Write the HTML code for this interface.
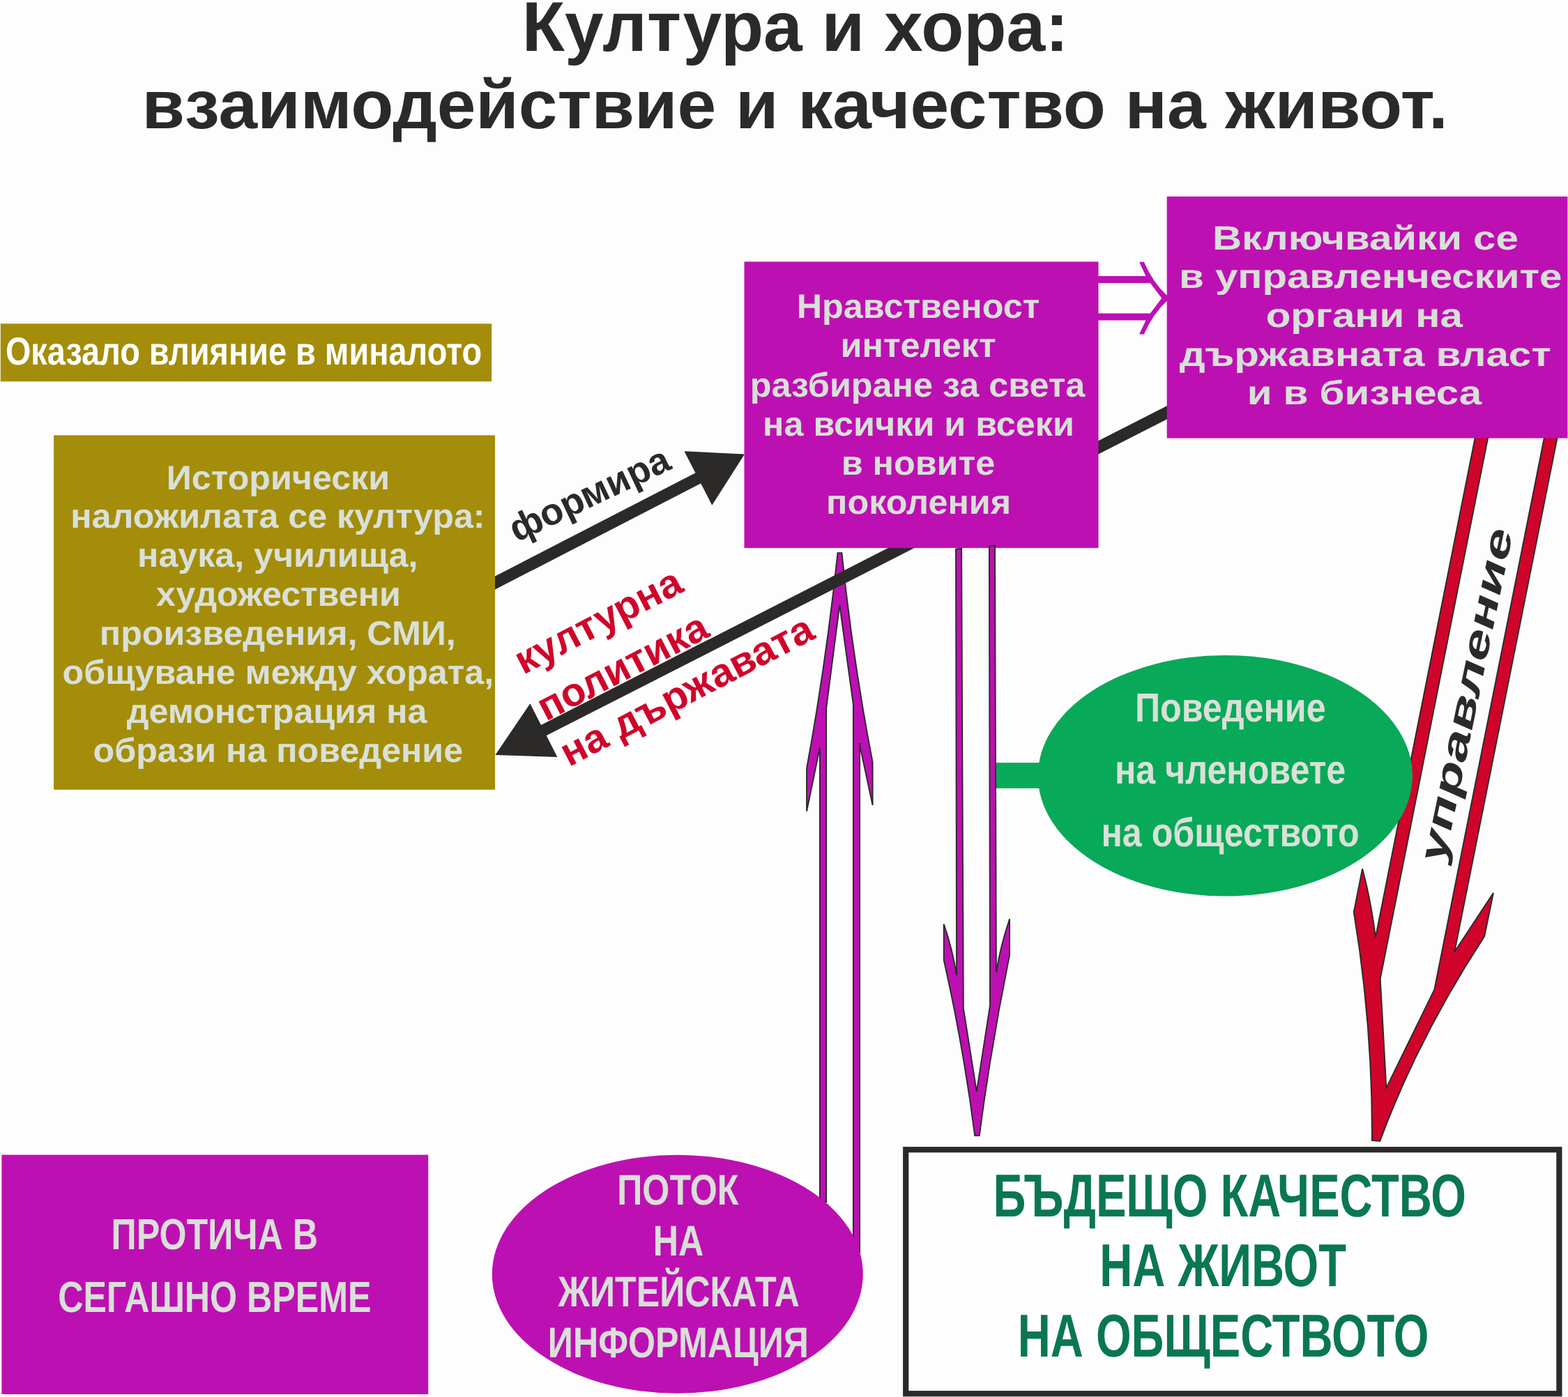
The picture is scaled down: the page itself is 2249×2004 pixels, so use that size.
<!DOCTYPE html>
<html lang="bg">
<head>
<meta charset="utf-8">
<title>Култура и хора: взаимодействие и качество на живот</title>
<style>
html,body{margin:0;padding:0;background:#fdfdfd;}
body{width:2249px;height:2004px;overflow:hidden;}
svg{display:block;}
text{font-family:"Liberation Sans",sans-serif;font-weight:bold;font-size:100px;text-rendering:geometricPrecision;}
</style>
</head>
<body>
<svg width="2249" height="2004" viewBox="0 0 2249 2004">
<rect x="0" y="0" width="2249" height="2004" fill="#fdfdfd"/>
<path d="M1201.5,793.2 L1207.4,793.2 Q1222.7,943.3 1251.6,1093.4 L1251.6,1155 L1232.7,1067 L1233.1,1067 L1233.1,1797 L1223.9,1797 L1223.9,1010.9 L1204.3,868 L1185.1,1016.4 L1185.1,1724 L1175.9,1724 L1175.9,1072.5 L1157.05,1163.8 L1157.05,1102.2 Q1185.4,947.6 1201.5,793.2 Z" fill="#bd10b2" stroke="#2b2a29" stroke-width="1.9" stroke-linejoin="miter"/>
<line x1="705.00" y1="838.70" x2="1003.11" y2="685.04" stroke="#2b2a29" stroke-width="17"/>
<polygon points="1068.00,651.60 1021.26,724.63 981.40,647.30" fill="#2b2a29"/>
<line x1="1680.00" y1="588.60" x2="778.11" y2="1048.48" stroke="#2b2a29" stroke-width="17"/>
<polygon points="710.40,1083.00 760.35,1009.26 799.42,1085.88" fill="#2b2a29"/>
<path d="M2117.3,620 L2135.8,620 L1979.7,1404 L1988.4,1560.6 L2057.4,1419.3 L2216.5,620 L2235.2,620 L2086.2,1365.5 L2142,1280.7 L2129.1,1343.3 Q2033.4,1490.1 1979.2,1637.1 L1967.9,1635.9 Q1968.8,1471.9 1941.8,1308.3 L1954.1,1246.2 Q1966,1290 1973,1344.5 Z" fill="#d0042a" stroke="#2b2a29" stroke-width="1.9" stroke-linejoin="miter"/>
<rect x="1428.6" y="1094.1" width="71.40" height="36.70" fill="#08a958"/>
<ellipse cx="1757.3" cy="1112.8" rx="268.6" ry="172.8" fill="#08a958"/>
<rect x="0.8" y="464.3" width="704.40" height="82.90" fill="#a48d0a"/>
<rect x="77.1" y="624.4" width="632.90" height="508.40" fill="#a48d0a"/>
<rect x="1067.5" y="375.4" width="508.00" height="410.70" fill="#bd10b2"/>
<rect x="1673.7" y="281.9" width="574.70" height="346.70" fill="#bd10b2"/>
<rect x="2.4" y="1656.6" width="611.80" height="343.40" fill="#bd10b2"/>
<ellipse cx="971.8" cy="1827.7" rx="266" ry="171" fill="#bd10b2"/>
<rect x="1299.2" y="1649.2" width="937.2" height="350.0" fill="#fefefe" stroke="#2b2a29" stroke-width="8.2"/>
<path d="M1371.0,787.6 L1379.1,786.6 L1381.8,1446.2 L1400.8,1565.9 L1420,1442.3 L1418.9,783.5 L1427.0,782.6 L1428.9,1394.8 Q1435.1,1356.4 1448.05,1318.3 L1448.05,1370.1 Q1421.7,1499.6 1404.7,1629.1 L1398.2,1629.1 Q1382.1,1503 1353.7,1377 L1353.7,1325.6 Q1366.3,1362.2 1372.1,1398.8 Z" fill="#bd10b2" stroke="#2b2a29" stroke-width="1.9" stroke-linejoin="miter"/>
<path d="M1575,396 L1643.5,396 L1634,375.8 L1640.8,375.8 Q1653.7,405.8 1674.5,424.5 L1674.5,430.9 Q1653.7,449.6 1640.8,479.6 L1634,479.6 L1643.5,459.4 L1575,459.4 L1575,449.4 L1649.8,449.4 L1666.2,427.7 L1649.8,406 L1575,406 Z" fill="#bd10b2"/>
<text transform="translate(748.84 73.00) scale(1.0015 1.0100)" fill="#2b2a29">Култура и хора:</text>
<text transform="translate(203.60 184.00) scale(1.0005 0.9860)" fill="#2b2a29">взаимодействие и качество на живот.</text>
<text transform="translate(7.93 523.30) scale(0.4683 0.5600)" fill="#ffffff">Оказало влияние в миналото</text>
<text transform="translate(238.80 701.50) scale(0.5017 0.4860)" fill="#d9e0d8">Исторически</text>
<text transform="translate(101.28 757.30) scale(0.5017 0.4860)" fill="#d9e0d8">наложилата се култура:</text>
<text transform="translate(197.09 813.20) scale(0.5017 0.4860)" fill="#d9e0d8">наука, училища,</text>
<text transform="translate(224.00 868.90) scale(0.5017 0.4860)" fill="#d9e0d8">художествени</text>
<text transform="translate(142.85 924.80) scale(0.5017 0.4860)" fill="#d9e0d8">произведения, СМИ,</text>
<text transform="translate(89.52 980.70) scale(0.5017 0.4860)" fill="#d9e0d8">общуване между хората,</text>
<text transform="translate(181.77 1036.70) scale(0.5017 0.4860)" fill="#d9e0d8">демонстрация на</text>
<text transform="translate(133.59 1092.70) scale(0.5017 0.4860)" fill="#d9e0d8">образи на поведение</text>
<text transform="translate(1142.72 456.30) scale(0.5030 0.4860)" fill="#d9e0d8">Нравственост</text>
<text transform="translate(1205.61 512.30) scale(0.5030 0.4860)" fill="#d9e0d8">интелект</text>
<text transform="translate(1075.80 568.60) scale(0.5030 0.4860)" fill="#d9e0d8">разбиране за света</text>
<text transform="translate(1094.12 625.00) scale(0.5030 0.4860)" fill="#d9e0d8">на всички и всеки</text>
<text transform="translate(1206.65 681.00) scale(0.5030 0.4860)" fill="#d9e0d8">в новите</text>
<text transform="translate(1185.03 737.30) scale(0.5030 0.4860)" fill="#d9e0d8">поколения</text>
<text transform="translate(1738.95 357.80) scale(0.5816 0.4840)" fill="#d9e0d8">Включвайки се</text>
<text transform="translate(1691.02 413.40) scale(0.5816 0.4840)" fill="#d9e0d8">в управленческите</text>
<text transform="translate(1815.68 469.10) scale(0.5816 0.4840)" fill="#d9e0d8">органи на</text>
<text transform="translate(1691.74 524.70) scale(0.5816 0.4840)" fill="#d9e0d8">държавната власт</text>
<text transform="translate(1788.67 580.40) scale(0.5816 0.4840)" fill="#d9e0d8">и в бизнеса</text>
<text transform="translate(159.56 1792.00) scale(0.5019 0.6240)" fill="#d9e0d8">ПРОТИЧА В</text>
<text transform="translate(83.14 1882.10) scale(0.5019 0.6240)" fill="#d9e0d8">СЕГАШНО ВРЕМЕ</text>
<text transform="translate(885.24 1727.70) scale(0.5021 0.6140)" fill="#d9e0d8">ПОТОК</text>
<text transform="translate(936.67 1800.90) scale(0.5021 0.6140)" fill="#d9e0d8">НА</text>
<text transform="translate(800.51 1873.70) scale(0.5021 0.6140)" fill="#d9e0d8">ЖИТЕЙСКАТА</text>
<text transform="translate(785.82 1946.50) scale(0.5021 0.6140)" fill="#d9e0d8">ИНФОРМАЦИЯ</text>
<text transform="translate(1627.92 1034.80) scale(0.5018 0.5800)" fill="#d9e0d8">Поведение</text>
<text transform="translate(1598.96 1123.70) scale(0.5018 0.5800)" fill="#d9e0d8">на членовете</text>
<text transform="translate(1579.51 1213.60) scale(0.5018 0.5800)" fill="#d9e0d8">на обществото</text>
<text transform="translate(1424.48 1744.50) scale(0.6515 0.8680)" fill="#0a7754">БЪДЕЩО КАЧЕСТВО</text>
<text transform="translate(1577.19 1845.20) scale(0.6515 0.8680)" fill="#0a7754">НА ЖИВОТ</text>
<text transform="translate(1459.74 1946.10) scale(0.6515 0.8680)" fill="#0a7754">НА ОБЩЕСТВОТО</text>
<text transform="translate(741.00 778.00) rotate(-25.3) scale(0.5400 0.5350)" fill="#2b2a29">формира</text>
<text transform="translate(750.60 968.20) rotate(-27.5) scale(0.5810 0.5720)" fill="#d0042a">културна</text>
<text transform="translate(782.90 1035.00) rotate(-27.4) scale(0.5810 0.5720)" fill="#d0042a">политика</text>
<text transform="translate(816.10 1100.40) rotate(-27.6) scale(0.5840 0.5720)" fill="#d0042a">на държавата</text>
<text transform="translate(2070.60 1242.40) rotate(-78.25) scale(0.8300 0.5400) skewX(-8)" fill="#2b2a29">управление</text>
</svg>
</body>
</html>
